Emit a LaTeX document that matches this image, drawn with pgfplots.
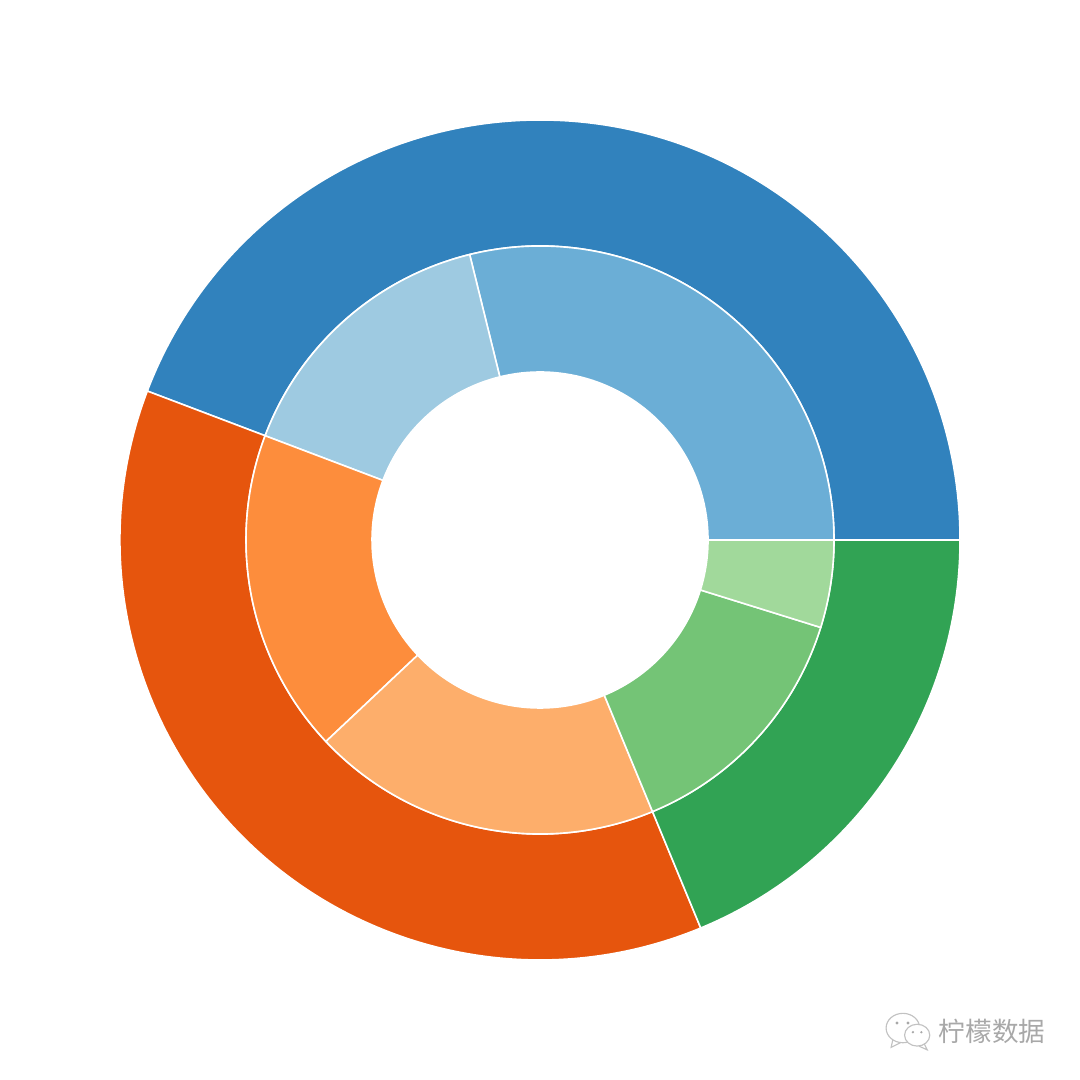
\documentclass[border=0pt]{standalone}
\usepackage{pgfplots}
\usepackage{fontspec}
\pgfplotsset{compat=1.18}
\newfontfamily\cjk{Noto Sans CJK SC}
\definecolor{c1}{HTML}{3182BD}
\definecolor{c2}{HTML}{6BAED6}
\definecolor{c3}{HTML}{9ECAE1}
\definecolor{c4}{HTML}{E6550D}
\definecolor{c5}{HTML}{FD8D3C}
\definecolor{c6}{HTML}{FDAE6B}
\definecolor{c7}{HTML}{31A354}
\definecolor{c8}{HTML}{74C476}
\definecolor{c9}{HTML}{A1D99B}
\definecolor{wmark}{HTML}{A8A8A8}
\def\unitr{3.88889cm}% axis length of radius 1
\pgfdeclareplotmark{wedge}{%
  \pgfmathsetmacro\angA{\wfrom/208*360}%
  \pgfmathsetmacro\angB{\wto/208*360}%
  \pgfmathsetlengthmacro\radI{\win*\unitr}%
  \pgfmathsetlengthmacro\radO{\wout*\unitr}%
  \path[fill=\wcol, draw=white, line width=0.42pt, line join=round]
    (\angA:\radO) arc[start angle=\angA, end angle=\angB, radius=\radO]
    -- (\angB:\radI) arc[start angle=\angB, end angle=\angA, radius=\radI] -- cycle;
}
\begin{document}
\begin{tikzpicture}
\begin{axis}[
    scale only axis,
    width=10cm,
    height=10cm,
    hide axis,
    clip=false,
    xmin=-1.285714, xmax=1.285714,
    ymin=-1.285714, ymax=1.285714,
]
\path (rel axis cs:0,0) rectangle (rel axis cs:1,1);
% one wedge per row: ring radii, and from/to as cumulative sizes out of 208
\addplot[only marks, mark=wedge,
    visualization depends on={value \thisrow{rin} \as \win},
    visualization depends on={value \thisrow{rout} \as \wout},
    visualization depends on={value \thisrow{from} \as \wfrom},
    visualization depends on={value \thisrow{to} \as \wto},
    visualization depends on={value \thisrow{col} \as \wcol},
] table[x=cx, y=cy] {
cx cy rin rout from to  col
0  0  0.7 1.0  0    92  c1
0  0  0.7 1.0  92   169 c4
0  0  0.7 1.0  169  208 c7
0  0  0.4 0.7  0    60  c2
0  0  0.4 0.7  60   92  c3
0  0  0.4 0.7  92   129 c5
0  0  0.4 0.7  129  169 c6
0  0  0.4 0.7  169  198 c8
0  0  0.4 0.7  198  208 c9
};
% watermark, bottom right
\draw[wmark!70, line width=0.3pt, fill=white] (axis cs:0.864,-1.162) ellipse[x radius=0.040, y radius=0.035];
\draw[wmark!70, line width=0.3pt] (axis cs:0.840,-1.190) -- (axis cs:0.836,-1.208) -- (axis cs:0.858,-1.197);
\fill[wmark] (axis cs:0.850,-1.150) circle[radius=0.004] (axis cs:0.876,-1.150) circle[radius=0.004];
\draw[wmark!70, line width=0.3pt, fill=white] (axis cs:0.898,-1.179) ellipse[x radius=0.030, y radius=0.026];
\draw[wmark!70, line width=0.3pt] (axis cs:0.915,-1.200) -- (axis cs:0.922,-1.214) -- (axis cs:0.902,-1.205);
\fill[wmark] (axis cs:0.888,-1.172) circle[radius=0.003] (axis cs:0.908,-1.172) circle[radius=0.003];
\node[anchor=west, inner sep=0pt, text=wmark, font=\cjk\fontsize{7}{7}\selectfont] at (axis cs:0.948,-1.171) {柠檬数据};
\end{axis}
\end{tikzpicture}
\end{document}
